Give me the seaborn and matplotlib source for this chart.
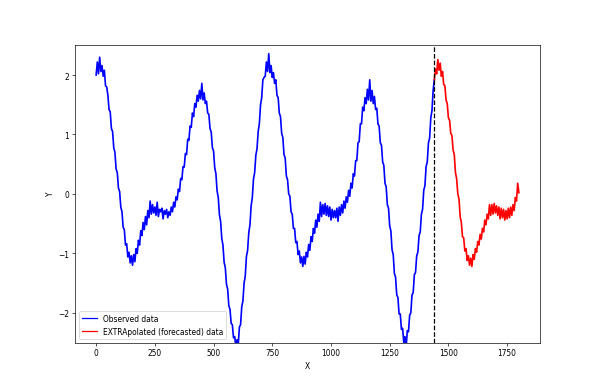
import numpy as np
import pandas as pd
import matplotlib
matplotlib.use("Agg")
import matplotlib.pyplot as plt
import seaborn as sns

# Observed series: x = 0, 5, ..., 1440
obs_x = list(range(0, 1441, 5))
obs_y = [
    2.00, 2.22, 2.02, 2.30, 2.06, 2.16, 1.98, 2.08, 1.82, 1.80,
    1.66, 1.42, 1.38, 1.10, 1.05, 0.78, 0.70, 0.42, 0.36, 0.10,
    0.04, -0.22, -0.30, -0.56, -0.60, -0.86, -0.84, -1.06, -0.98, -1.16,
    -1.04, -1.20, -1.02, -1.14, -0.92, -1.00, -0.78, -0.86, -0.62, -0.70,
    -0.48, -0.60, -0.38, -0.52, -0.28, -0.40, -0.12, -0.34, -0.18, -0.32,
    -0.22, -0.36, -0.14, -0.38, -0.26, -0.30, -0.24, -0.42, -0.28, -0.34,
    -0.26, -0.40, -0.30, -0.36, -0.22, -0.30, -0.14, -0.22, -0.05, -0.10,
    0.08, 0.04, 0.26, 0.24, 0.46, 0.45, 0.68, 0.66, 0.92, 0.90,
    1.14, 1.12, 1.36, 1.30, 1.52, 1.46, 1.66, 1.56, 1.74, 1.60,
    1.86, 1.58, 1.70, 1.52, 1.56, 1.36, 1.34, 1.10, 1.04, 0.78,
    0.72, 0.44, 0.34, 0.05, -0.06, -0.35, -0.46, -0.75, -0.86, -1.15,
    -1.24, -1.52, -1.60, -1.88, -1.94, -2.18, -2.20, -2.42, -2.40, -2.58,
    -2.45, -2.55, -2.24, -2.20, -1.90, -1.80, -1.50, -1.38, -1.05, -0.95,
    -0.65, -0.52, -0.20, -0.06, 0.25, 0.36, 0.65, 0.76, 1.05, 1.18,
    1.50, 1.62, 1.92, 1.96,
    1.98, 2.22, 2.06, 2.36, 2.04, 2.16, 1.96, 2.04, 1.86, 1.92,
    1.66, 1.62, 1.36, 1.30, 1.02, 0.95, 0.66, 0.60, 0.30, 0.24,
    0.00, -0.04, -0.30, -0.34, -0.58, -0.58, -0.82, -0.80, -1.02, -0.96,
    -1.16, -1.06, -1.22, -1.05, -1.18, -0.98, -1.06, -0.85, -0.95, -0.72,
    -0.80, -0.58, -0.66, -0.44, -0.56, -0.34, -0.46, -0.14, -0.38, -0.18,
    -0.34, -0.16, -0.36, -0.20, -0.38, -0.22, -0.44, -0.26, -0.40, -0.28,
    -0.40, -0.24, -0.46, -0.22, -0.36, -0.18, -0.32, -0.12, -0.24, -0.05,
    -0.14, 0.06, -0.04, 0.18, 0.10, 0.34, 0.30, 0.56, 0.56, 0.86,
    0.88, 1.18, 1.18, 1.46, 1.40, 1.62, 1.52, 1.76, 1.58, 1.92,
    1.56, 1.74, 1.52, 1.64, 1.42, 1.44, 1.18, 1.14, 0.86, 0.82,
    0.54, 0.48, 0.18, 0.12, -0.18, -0.24, -0.54, -0.62, -0.94, -1.02,
    -1.34, -1.40, -1.70, -1.74, -2.02, -2.02, -2.28, -2.26, -2.50, -2.40,
    -2.58, -2.30, -2.32, -2.04, -2.00, -1.70, -1.66, -1.36, -1.32, -1.04,
    -0.98, -0.70, -0.64, -0.34, -0.26, 0.06, 0.14, 0.46, 0.54, 0.86,
    0.94, 1.28, 1.40, 1.74, 1.92,
]

# Extrapolated (forecast) series: x = 1440, 1445, ..., 1800
fc_x = list(range(1440, 1801, 5))
fc_y = [
    1.92, 2.10, 2.02, 2.26, 2.08, 2.20, 1.98, 2.06, 1.84, 1.82,
    1.58, 1.52, 1.28, 1.24, 1.02, 0.98, 0.74, 0.66, 0.36, 0.26,
    0.00, -0.08, -0.38, -0.48, -0.72, -0.74, -0.96, -0.92, -1.12, -1.04,
    -1.20, -1.08, -1.22, -1.02, -1.10, -0.92, -0.98, -0.80, -0.86, -0.68,
    -0.76, -0.58, -0.64, -0.44, -0.52, -0.34, -0.42, -0.18, -0.36, -0.18,
    -0.34, -0.16, -0.32, -0.20, -0.36, -0.22, -0.42, -0.24, -0.40, -0.26,
    -0.44, -0.28, -0.42, -0.24, -0.40, -0.22, -0.36, -0.18, -0.28, -0.06,
    -0.12, 0.18, 0.02,
]

split_x = 1440

assert len(obs_x) == len(obs_y), (len(obs_x), len(obs_y))
assert len(fc_x) == len(fc_y), (len(fc_x), len(fc_y))

obs = pd.DataFrame({"X": obs_x, "Y": obs_y})
fc = pd.DataFrame({"X": fc_x, "Y": fc_y})

plt.rcParams["font.size"] = 9

fig, ax = plt.subplots(figsize=(10, 6.4333), dpi=60)
sns.lineplot(data=obs, x="X", y="Y", ax=ax, color="blue", linewidth=2.0,
             label="Observed data")
sns.lineplot(data=fc, x="X", y="Y", ax=ax, color="red", linewidth=2.0,
             label="EXTRApolated (forecasted) data")
ax.axvline(split_x, color="black", linestyle="--", linewidth=1.5)
ax.set_ylim(-2.5, 2.5)
ax.set_xticks([0, 250, 500, 750, 1000, 1250, 1500, 1750])
ax.set_xlabel("X")
ax.set_ylabel("Y")
leg = ax.legend(loc="lower left")
for line in leg.get_lines():
    line.set_linewidth(1.5)
fig.savefig("out.png", dpi=60)
